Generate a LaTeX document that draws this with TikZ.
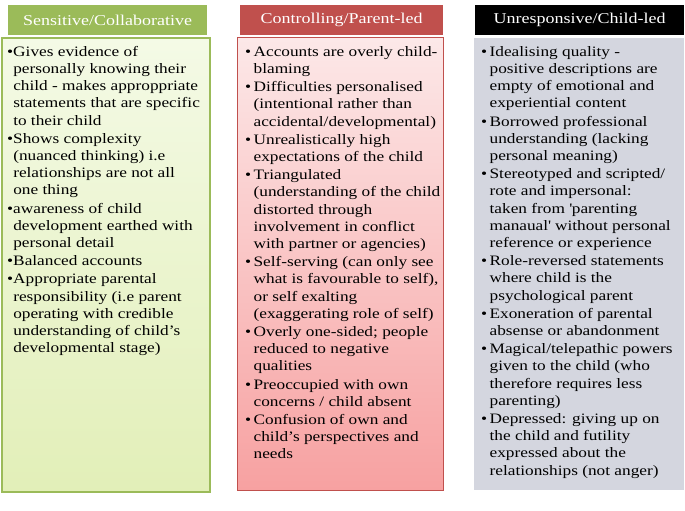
\documentclass[tikz,border=0pt]{standalone}
\usepackage{fontspec}
\setmainfont[FakeStretch=1.2]{Liberation Serif}
\usetikzlibrary{positioning}
\definecolor{gh}{HTML}{9BBB59}
\definecolor{rh}{HTML}{C0504D}
\definecolor{gt}{HTML}{F4FAE6}
\definecolor{gb}{HTML}{E2EFB8}
\definecolor{rt}{HTML}{FCE8E8}
\definecolor{rb}{HTML}{F7A1A1}
\definecolor{gy}{HTML}{D4D6DF}
\newcommand\bi{\textbullet}
\begin{document}
\begin{tikzpicture}[x=1pt,y=-1pt,
  hdr/.style={inner sep=0pt,text=white,font=\fontsize{15}{17}\selectfont},
  body/.style={anchor=north west,inner sep=0pt,align=left,font=\fontsize{14.4}{17.2}\selectfont}]
\useasboundingbox (0,0) rectangle (685,511);
% headers
\fill[gh] (8,5) rectangle (207,35);
\node[hdr] (h1) at (107.5,20) {Sensitive/Collaborative};
\fill[rh] (240,5) rectangle (443,35);
\node[hdr] (h2) at (341.5,20) {Controlling/Parent-led};
\fill[black] (475,5) rectangle (684,35);
\node[hdr] (h3) at (579.5,20) {Unresponsive/Child-led};
% bodies
\shade[top color=gt,bottom color=gb] (2,38) rectangle (210,492);
\draw[gh,line width=1.2pt] (2,38) rectangle (210,492);
\shade[top color=rt,bottom color=rb] (237,38) rectangle (443,490);
\draw[rh,line width=1pt] (237,38) rectangle (443,490);
\fill[gy] (474,38) rectangle (684,490);
\node[body] (b1) at (7,44) {\begin{tabular}{@{}l@{}l@{}}
\bi&Gives evidence of\\
&personally knowing their\\
&child - makes approppriate\\
&statements that are specific\\
&to their child\\[1pt]
\bi&Shows complexity\\
&(nuanced thinking) i.e\\
&relationships are not all\\
&one thing\\[1pt]
\bi&awareness of child\\
&development earthed with\\
&personal detail\\[1pt]
\bi&Balanced accounts\\[1pt]
\bi&Appropriate parental\\
&responsibility (i.e parent\\
&operating with credible\\
&understanding of child's\\
&developmental stage)
\end{tabular}};
\node[body] (b2) at (245,44) {\begin{tabular}{@{}l@{\,}l@{}}
\bi&Accounts are overly child-\\
&blaming\\[1pt]
\bi&Difficulties personalised\\
&(intentional rather than\\
&accidental/developmental)\\[1pt]
\bi&Unrealistically high\\
&expectations of the child\\[1pt]
\bi&Triangulated\\
&(understanding of the child\\
&distorted through\\
&involvement in conflict\\
&with partner or agencies)\\[1pt]
\bi&Self-serving (can only see\\
&what is favourable to self),\\
&or self exalting\\
&(exaggerating role of self)\\[1pt]
\bi&Overly one-sided; people\\
&reduced to negative\\
&qualities\\[1pt]
\bi&Preoccupied with own\\
&concerns / child absent\\[1pt]
\bi&Confusion of own and\\
&child's perspectives and\\
&needs
\end{tabular}};
\node[body] (b3) at (481,44) {\begin{tabular}{@{}l@{\,}l@{}}
\bi&Idealising quality -\\
&positive descriptions are\\
&empty of emotional and\\
&experiential content\\[1pt]
\bi&Borrowed professional\\
&understanding (lacking\\
&personal meaning)\\[1pt]
\bi&Stereotyped and scripted/\\
&rote and impersonal:\\
&taken from \textquotesingle parenting\\
&manaual\textquotesingle{} without personal\\
&reference or experience\\[1pt]
\bi&Role-reversed statements\\
&where child is the\\
&psychological parent\\[1pt]
\bi&Exoneration of parental\\
&absense or abandonment\\[1pt]
\bi&Magical/telepathic powers\\
&given to the child (who\\
&therefore requires less\\
&parenting)\\[1pt]
\bi&Depressed: giving up on\\
&the child and futility\\
&expressed about the\\
&relationships (not anger)
\end{tabular}};
\end{tikzpicture}
\end{document}
